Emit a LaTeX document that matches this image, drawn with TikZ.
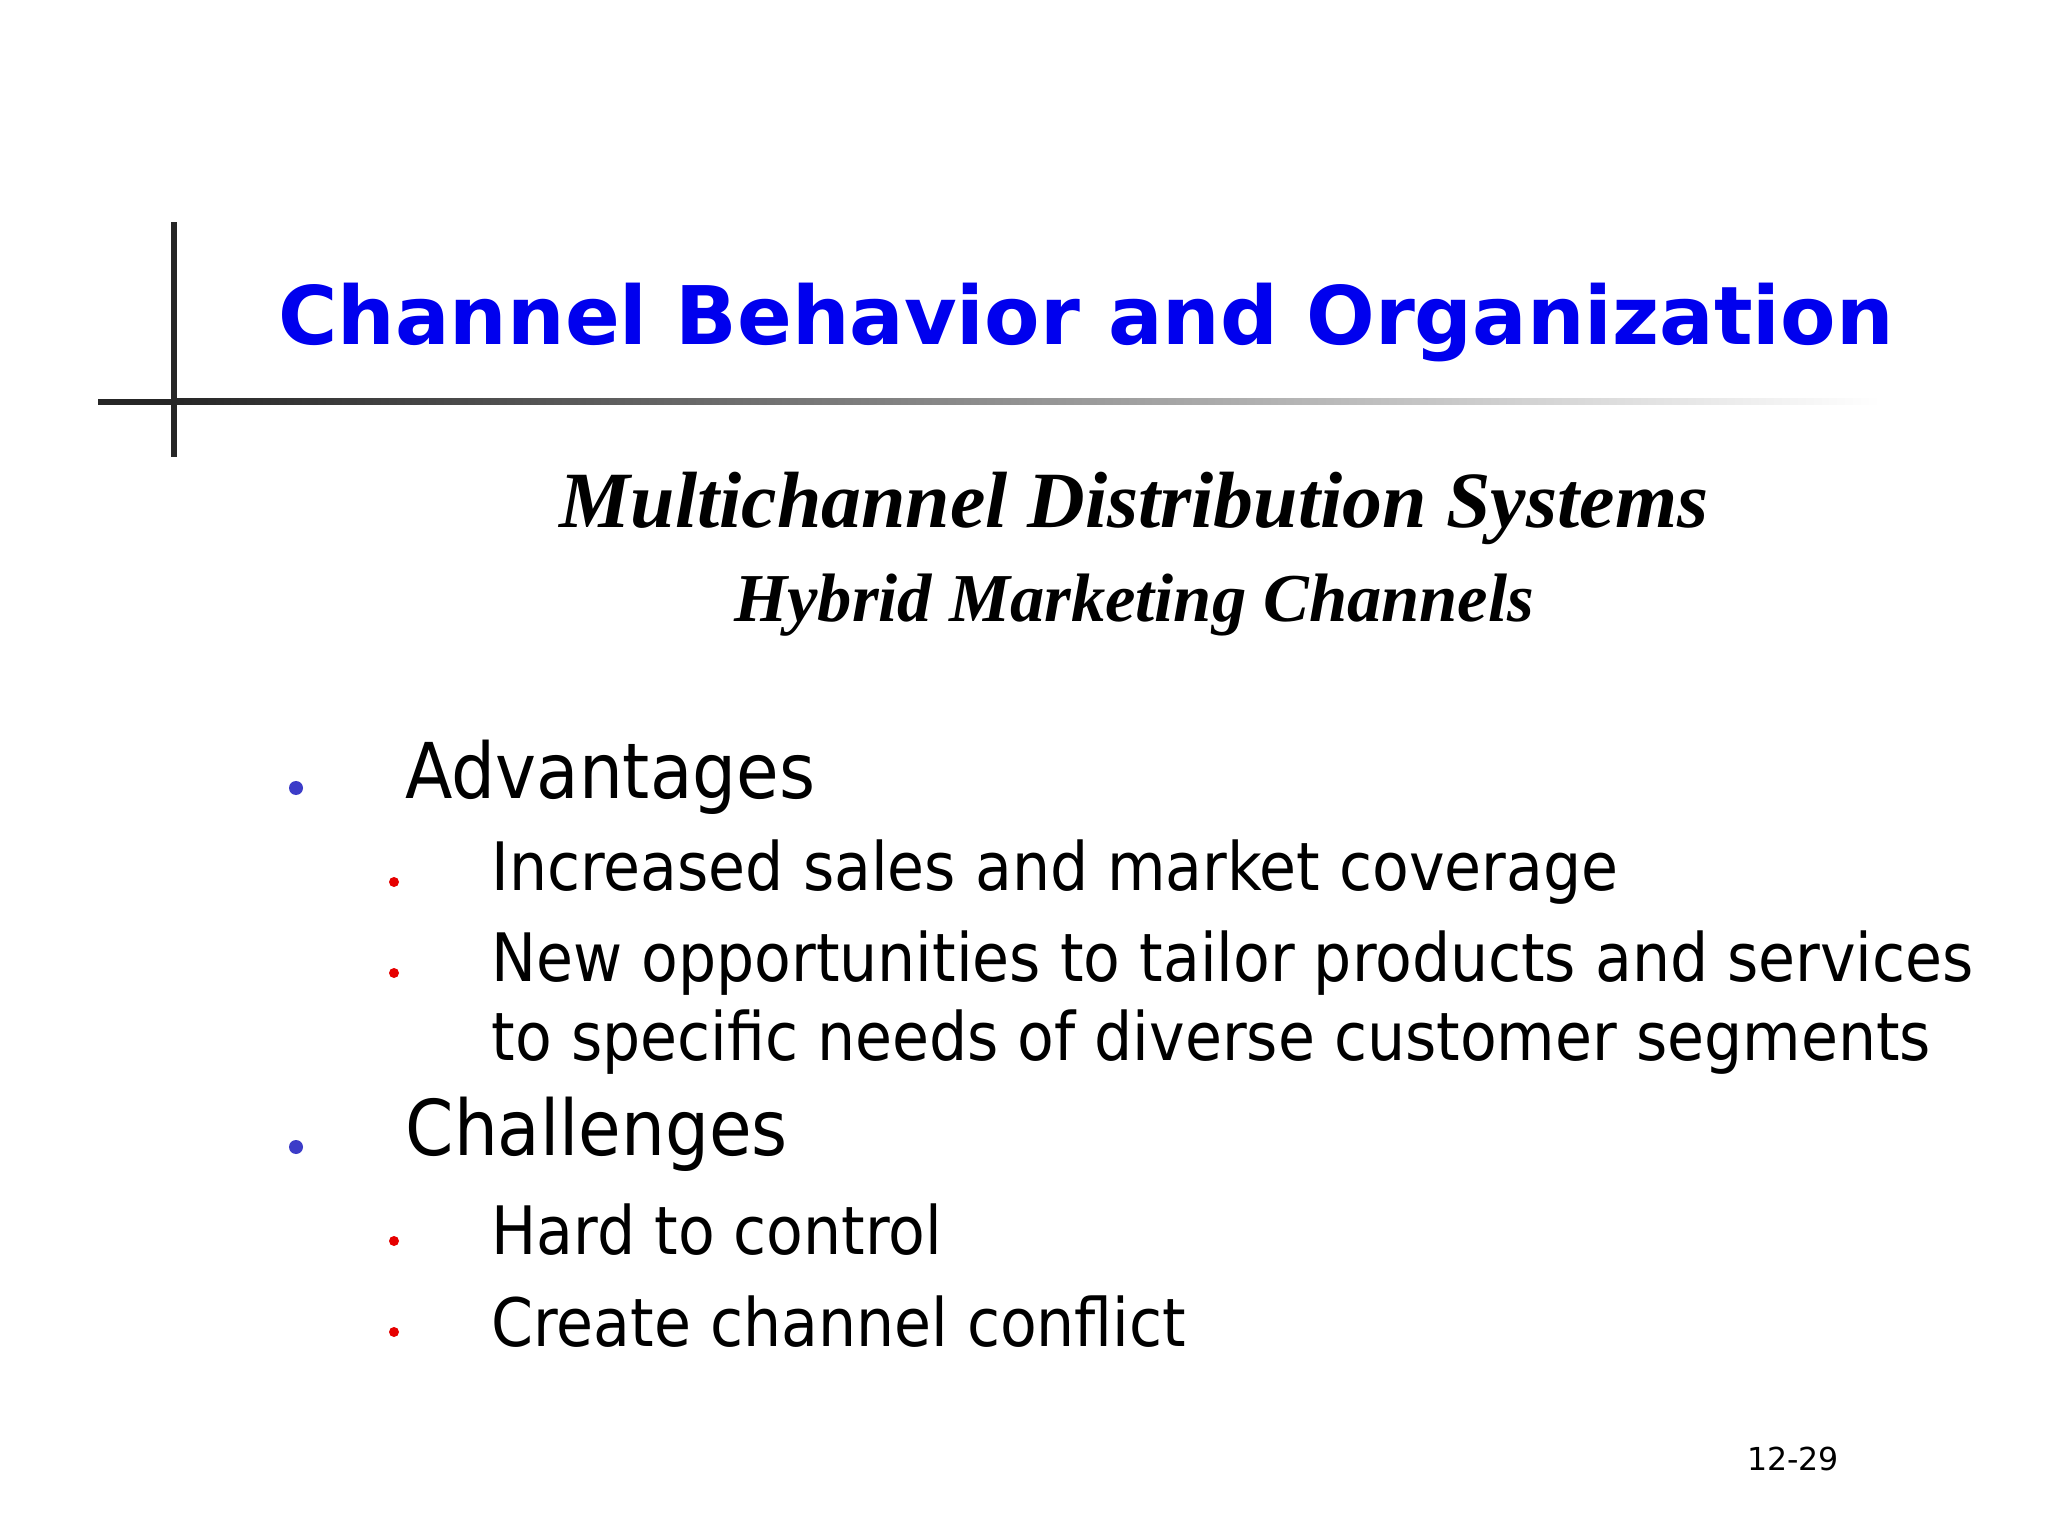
\documentclass[tikz,border=0pt]{standalone}
\usepackage{fontspec}
\setmainfont{DejaVu Sans}
\newfontfamily\serifb{Liberation Serif}
\newfontfamily\condf{DejaVu Sans Condensed}
\definecolor{ttl}{RGB}{0,0,238}
\definecolor{bb}{RGB}{60,60,200}
\definecolor{rb}{RGB}{230,0,0}
\tikzset{
 ttlstyle/.style={font=\bfseries\fontsize{23}{28}\selectfont, text=ttl, inner sep=0},
 sub/.style={font=\serifb\bfseries\itshape\fontsize{#1}{#1}\selectfont, inner sep=0},
 lvlone/.style={font=\condf\fontsize{21.9}{27}\selectfont, anchor=west, inner sep=0},
 lvltwo/.style={font=\condf\fontsize{19}{22.6}\selectfont, anchor=west, inner sep=0, align=left},
}
\begin{document}
\begin{tikzpicture}[x=1cm,y=1cm]
\useasboundingbox (0,0) rectangle (20.48,-15.36);
\fill[white] (0,0) rectangle (20.48,-15.36);
\shade[left color=black!85, right color=white] (1.74,-3.99) rectangle (18.8,-4.05);
\fill[black!85] (0.98,-3.99) rectangle (1.74,-4.05);
\fill[black!85] (1.71,-2.22) rectangle (1.77,-4.57);
\node[ttlstyle] (title) at (10.86,-3.23) {Channel Behavior and Organization};
\node[sub=22.7] (s1) at (11.34,-5.08) {Multichannel Distribution Systems};
\node[sub=19.5] (s2) at (11.34,-6.05) {Hybrid Marketing Channels};
\fill[bb] (2.96,-7.88) circle (0.07);
\node[lvlone] (a) at (4.05,-7.77) {Advantages};
\fill[rb] (3.94,-8.82) circle (0.05);
\node[lvltwo] (a1) at (4.91,-8.72) {Increased sales and market coverage};
\fill[rb] (3.94,-9.73) circle (0.05);
\node[lvltwo,anchor=north west] (a2) at (4.91,-9.30) {New opportunities to tailor products and services\\to specific needs of diverse customer segments};
\fill[bb] (2.96,-11.47) circle (0.07);
\node[lvlone] (c) at (4.05,-11.34) {Challenges};
\fill[rb] (3.94,-12.41) circle (0.05);
\node[lvltwo] (c1) at (4.91,-12.30) {Hard to control};
\fill[rb] (3.94,-13.32) circle (0.05);
\node[lvltwo] (c2) at (4.91,-13.22) {Create channel conflict};
\node[font=\fontsize{9}{11}\selectfont, inner sep=0] (pg) at (17.93,-14.59) {12-29};
\end{tikzpicture}
\end{document}
